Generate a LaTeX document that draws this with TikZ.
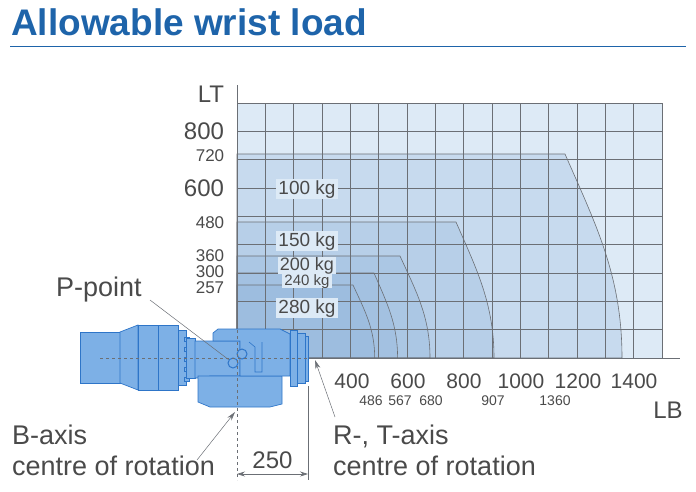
\documentclass[tikz,border=0pt]{standalone}
\usepackage{fontspec}
\setmainfont{Liberation Sans}
\usetikzlibrary{arrows.meta}
\definecolor{titleblue}{HTML}{1E64AA}
\definecolor{txt}{HTML}{4A4A4A}
\definecolor{bgblue}{HTML}{DDEAF6}
\definecolor{regblue}{HTML}{8FB3DC}
\definecolor{robfill}{HTML}{7DB0E6}
\definecolor{robline}{HTML}{2E75C8}
\definecolor{gridc}{HTML}{6B6F75}
\tikzset{
  lbl/.style={text=txt,inner sep=0pt,anchor=base},
  big/.style={lbl,font=\fontsize{24}{24}\selectfont},
  xbig/.style={lbl,font=\fontsize{21}{21}\selectfont},
  small/.style={lbl,font=\fontsize{17}{17}\selectfont},
  tiny/.style={lbl,font=\fontsize{14}{14}\selectfont},
  kg/.style={lbl,font=\fontsize{19}{19}\selectfont,fill=bgblue,inner xsep=2pt,inner ysep=1pt},
  captxt/.style={lbl,font=\fontsize{27}{27}\selectfont,anchor=base west},
  region/.style={fill=regblue,fill opacity=0.28,draw=gridc,draw opacity=1,line width=0.6pt},
  rob/.style={fill=robfill,draw=robline,line width=0.7pt},
  lead/.style={gridc,line width=0.5pt,-{Stealth[length=9pt,width=5pt]}},
}
\begin{document}
\begin{tikzpicture}[x=1pt,y=-1pt]
\useasboundingbox (0,0) rectangle (696,491);
\node[anchor=base west,text=titleblue,font=\fontsize{37}{37}\selectfont\bfseries,inner sep=0pt] (title) at (11,35) {Allowable wrist load};
\draw[titleblue,line width=1pt] (10,46) -- (686,46);
% chart background
\fill[bgblue] (237,103) rectangle (662,358);
% regions
\path[region] (237,154) -- (565,154) .. controls (596,225) and (622,276) .. (622,358) -- (237,358) -- cycle;
\path[region] (237,222) -- (456,222) .. controls (477,270) and (494,304) .. (494,358) -- (237,358) -- cycle;
\path[region] (237,256) -- (400,256) .. controls (416.5,292) and (430,317) .. (430,358) -- (237,358) -- cycle;
\path[region] (237,273) -- (374,273) .. controls (387,303) and (397.6,324) .. (397.6,358) -- (237,358) -- cycle;
\path[region] (237,285) -- (353,285) .. controls (365,311) and (374.7,329) .. (374.7,358) -- (237,358) -- cycle;
% grid
\foreach \k in {0,...,15} \draw[gridc,line width=0.6pt] ({237+28.333*\k},103) -- ({237+28.333*\k},358);
\foreach \k in {1,...,9} \draw[gridc,line width=0.6pt] (237,{358-28.333*\k}) -- (662,{358-28.333*\k});
\draw[gridc,line width=0.8pt] (237,85) -- (237,358) -- (680,358);
% kg labels
\node[kg] (k100) at (307,194) {100 kg};
\node[kg] (k150) at (307,246) {150 kg};
\node[kg,font=\fontsize{18}{18}\selectfont,inner ysep=0pt] (k200) at (307,270) {200 kg};
\node[kg,font=\fontsize{15}{15}\selectfont,inner ysep=0pt] (k240) at (307,285) {240 kg};
\node[kg] (k280) at (307,313) {280 kg};
% axis labels
\node[big] (lt) at (211,102) {LT};
\node[big] (y800) at (204,139) {800};
\node[small] (y720) at (210,161) {720};
\node[big] (y600) at (204,196) {600};
\node[small] (y480) at (210,228) {480};
\node[small] (y360) at (210,261) {360};
\node[small] (y300) at (210,277) {300};
\node[small] (y257) at (210,293) {257};
\node[xbig] (x400) at (352,388) {400};
\node[xbig] (x600) at (408,388) {600};
\node[xbig] (x800) at (464,388) {800};
\node[xbig] (x1000) at (521,388) {1000};
\node[xbig] (x1200) at (578,388) {1200};
\node[xbig] (x1400) at (634,388) {1400};
\node[tiny] (x486) at (371,405) {486};
\node[tiny] (x567) at (400,405) {567};
\node[tiny] (x680) at (431,405) {680};
\node[tiny] (x907) at (493,405) {907};
\node[tiny] (x1360) at (555,405) {1360};
\node[big] (lb) at (668,418) {LB};
% robot
\path[rob] (80,332) rectangle (120,383);
\path[rob] (120,332) -- (138,325) -- (138,390) -- (120,383) -- cycle;
\path[rob] (138,325) rectangle (178,390);
\draw[robline,line width=0.6pt] (158,325) -- (158,390);
\path[rob] (178,330) rectangle (186,385);
\foreach \yy in {337,347,357,367,377} \path[rob] (184,\yy) rectangle (189,\yy+4);
\path[rob] (186,338) rectangle (195,378);
\path[rob] (195,341) -- (240,341) -- (240,376) -- (210,376) -- (205,378) -- (195,378) -- cycle;
\path[rob] (198,376) -- (282,376) -- (282,404) -- (270,407) -- (210,407) -- (198,402) -- cycle;
\path[rob] (213,333) -- (218,329) -- (280,329) -- (290,334) -- (290,376) -- (240,376) -- (240,341) -- (213,341) -- cycle;
\path[rob] (290,330) rectangle (297,386);
\path[rob] (297,333) rectangle (305,383);
\path[rob] (305,336) rectangle (308,381);
\draw[robline,line width=0.6pt] (249,342) -- (255,347) -- (255,372) -- (262,372) -- (262,342);
\node[circle,draw=robline,fill=robfill,line width=1pt,minimum size=10pt,inner sep=0pt] (c1) at (242,354) {};
\node[circle,draw=robline,fill=robfill,line width=1pt,minimum size=10pt,inner sep=0pt] (c2) at (233,363) {};
\draw[gridc,dashed,line width=0.6pt] (100,358) -- (310,358);
\draw[gridc,dashed,line width=0.6pt] (237,330) -- (237,480);
\draw[gridc,line width=0.6pt] (308,386) -- (308,480);
% dimension
\coordinate (dl) at (237,474);
\coordinate (dr) at (308,474);
\draw[gridc,line width=0.6pt,{Stealth[length=8pt,width=5pt]}-{Stealth[length=8pt,width=5pt]}] (dl) -- (dr);
\node[captxt,font=\fontsize{24}{24}\selectfont,anchor=base] (d250) at (272.5,468) {250};
% captions
\node[captxt] (pp) at (56,296) {P-point};
\coordinate (ppt) at (150,300);
\draw[gridc,line width=0.5pt] (ppt) -- (c2);
\node[captxt] (ba1) at (12,444) {B-axis};
\node[captxt] (ba2) at (12,475) {centre of rotation};
\coordinate (bs) at (197,460);
\coordinate (be) at (235,412);
\draw[lead] (bs) -- (be);
\node[captxt] (ra1) at (333,444) {R-, T-axis};
\node[captxt] (ra2) at (333,475) {centre of rotation};
\coordinate (rs) at (335,417);
\coordinate (re) at (315,360);
\draw[lead] (rs) -- (re);
\end{tikzpicture}
\end{document}
